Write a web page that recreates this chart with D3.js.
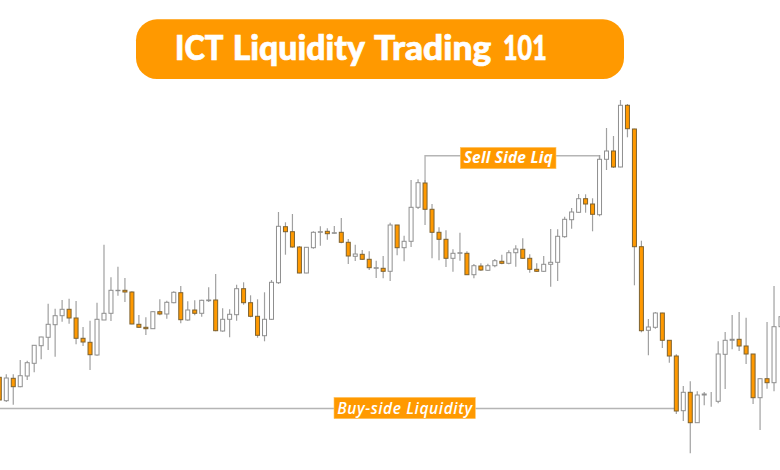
<!DOCTYPE html>
<html>
<head>
<meta charset="utf-8">
<script src="https://cdn.jsdelivr.net/npm/d3@7"></script>
<style>
  html, body { margin: 0; padding: 0; background: #fff; }
  svg { display: block; }
</style>
</head>
<body>
<svg id="chart" width="780" height="470"></svg>
<script>
var opens = [377.3,400.7,378.3,386.7,376,363.3,345.7,337.3,324.7,315.7,
  309.3,318,338.3,342.3,355,320,313.3,290.7,290.3,292,
  324.3,327.3,328.7,311.7,314,302.7,292.7,320,310,313.3,
  300.7,300,331,319.3,314.7,288.7,302.7,316.3,335.7,319.3,
  282.7,226.7,231.7,247,273,247.7,232.3,231.3,233.3,232.3,
  242.3,256.3,254.3,259.3,268.3,268.3,271.3,225,247.7,241.3,
  207.3,183,209.3,232.3,239.3,258.3,253.3,253.3,274.7,266,
  270.3,265.7,261.3,263.3,252.7,249.3,258.3,269.3,271.3,264.3,
  262.3,236.7,219.7,212.3,198.7,204,214.7,159.3,151,167,
  105.3,129,246.7,330.3,327.3,313,340.3,356,410.7,392.3,
  422.7,395,394,401.3,354.3,340.3,339.3,346,354,397.7,
  378.7,382.7,326.7];
var closes = [400,378,386.7,375.7,362.7,345.3,337,324.3,315.7,309.3,
  318,338.3,342,354.7,319.3,313.3,290.3,290.3,292,324,
  327.3,328.7,311.7,314,302.3,292.3,319.7,310,313.3,300.3,
  300,330.7,319.3,314.3,288.7,302.7,316.3,335.3,319.3,282.3,
  226.3,231.7,247,273,247.3,232.3,231.7,233.7,232.7,242.3,
  256,254,259.3,267.7,267.7,271.3,225,247.7,241.3,207.3,
  182.7,209.3,232.3,239.3,258.3,253.3,252.7,274.7,265.7,270,
  265.7,260.7,263.3,252.7,249,258.3,269.3,271.3,264.3,262.3,
  236.3,219.3,212,198.7,204,214.3,159.3,151,167,105.3,
  128.7,246.7,330.7,327,313,340.3,356,411,392.3,422.7,
  395,394,394,354,340.3,339.3,346,354,397.7,378.7,
  382.7,326.7,316.7];
var highs = [377,374.3,374.3,360,360.7,345,336.7,303.7,308.7,300,
  298.7,301,327,320.7,302.7,244.7,277.3,266.7,278,291.3,
  315,317.3,311.3,299.3,300.7,291.3,286,301.3,300.3,299.7,
  287.3,274,308.3,309.3,284.7,282.3,295.3,299.3,292.3,280,
  212,222.3,214,246,247,231.3,226.3,228.3,226,218,
  239,244.7,250,251.3,260.7,256,222.7,225,235.7,180,
  179.3,180,204,227.3,230.3,249.3,232.7,251.3,264,263.3,
  263.7,259,254.7,250.3,245.3,238.3,254.3,263.3,256,229,
  229.3,216.7,208,194,194.3,198.3,155,128,136,100,
  104,128.7,240.7,319,312,312.7,340,354.3,386,381.3,
  391.3,392,392,341.3,332,315,312,317.7,354,378.3,
  322,286,286];
var lows = [400,402,404.7,387.3,380,372.3,359.3,350,356.7,321.7,
  323.7,344.3,346,370,355.7,320,321,295.7,302,324.3,
  328,335,329,315.3,318.7,303.3,323.3,320.7,315.3,316.7,
  302,331.3,331.7,337.3,320.7,304.7,317.3,337.7,341.3,320,
  284,254.7,247.7,273.3,273.3,248.7,245.7,239.7,233.7,243.3,
  264,261,260,270,278,278.3,281,255.3,261.3,247,
  209,225,258.3,260.3,267,271.7,260.7,275,278.3,271,
  271,267.3,264.3,264.3,266.7,258.7,272.7,272,272,286.7,
  281,237.7,228.7,212.7,212.7,231.3,216.3,170,168,167.3,
  137.3,285.3,332.3,355.3,328.7,348,362.7,414,421,453.3,
  423,405.3,406.7,403.3,389,349.3,351,364,404,430,
  388.7,391.3,330];
var titleWords = ["ICT", "Liquidity", "Trading", "101"];
var levelLabels = ["Buy-side Liquidity", "Sell Side Liq"];
var buyLevel = [408.5];
var sellLevel = [155.7];
var candles = d3.range(opens.length);

var svg = d3.select("#chart");
var w = 780, h = 470;
var orange = "#ff9900";

// first candle hangs off the left edge, same as the screenshot
var x = d3.scaleLinear().domain([0, 112]).range([-0.7, 781]);
var y = d3.scaleLinear().domain([0, h]).range([0, h]);

// title pill
svg.append("rect").attr("x", 136).attr("y", 19.3).attr("width", 488).attr("height", 59.7)
  .attr("rx", 21).attr("fill", orange);
// each word placed on its own so the gaps line up
var wordBoxes = [[175, 48], [232.7, 132.3], [374, 118.7], [503, 43.7]];
var title = svg.append("text")
  .attr("y", 60)
  .attr("font-family", "Lato").attr("font-weight", 900).attr("font-size", 34)
  .attr("fill", "#fff").attr("stroke", "#fff").attr("stroke-width", 0.7);
titleWords.forEach(function(word, k) {
  title.append("tspan").text(k < titleWords.length - 1 ? word + " " : word)
    .attr("x", wordBoxes[k][0])
    .attr("textLength", wordBoxes[k][1] + (k < titleWords.length - 1 ? 7 : 0))
    .attr("lengthAdjust", "spacingAndGlyphs");
});

// liquidity levels, sit under the candles
var lineColor = "#b5b5b5";
svg.append("line")
  .attr("x1", 0).attr("x2", x(97))
  .attr("y1", y(buyLevel[0])).attr("y2", y(buyLevel[0]))
  .attr("stroke", lineColor).attr("stroke-width", 1.4);
svg.append("path")
  .attr("d", d3.line()([[x(61), y(opens[61])], [x(61), y(sellLevel[0])], [x(86), y(sellLevel[0])], [x(86), y(closes[86])]]))
  .attr("fill", "none").attr("stroke", lineColor).attr("stroke-width", 1.4);

svg.selectAll("line.wick").data(candles).enter().append("line")
  .attr("class", "wick")
  .attr("x1", function(i) { return x(i); })
  .attr("x2", function(i) { return x(i); })
  .attr("y1", function(i) { return y(highs[i]); })
  .attr("y2", function(i) { return y(lows[i]); })
  .attr("stroke", "#a0a0a0").attr("stroke-width", 1.2);

svg.selectAll("rect.body").data(candles).enter().append("rect")
  .attr("class", "body")
  .attr("x", function(i) { return x(i) - 2; })
  .attr("width", 4)
  .attr("y", function(i) { return y(Math.min(opens[i], closes[i])); })
  .attr("height", function(i) { return Math.abs(y(closes[i]) - y(opens[i])); })
  .attr("fill", function(i) { return closes[i] > opens[i] ? orange : "#fff"; })
  .attr("stroke", function(i) { return closes[i] > opens[i] ? "#7d6230" : "#8f8f8f"; })
  .attr("stroke-width", 1);

// level labels
var labelBoxes = [[334, 397.4, 141.3, 21.3], [460.3, 147.4, 95.7, 21.3]];
var labelBaselines = [413.5, 162.8];
var labelWidths = [135, 89];
labelBoxes.forEach(function(b, k) {
  svg.append("rect").attr("x", b[0]).attr("y", b[1]).attr("width", b[2]).attr("height", b[3])
    .attr("fill", orange).attr("stroke", "#ffc566").attr("stroke-width", 0.6);
  svg.append("text").text(levelLabels[k])
    .attr("x", b[0] + (b[2] - labelWidths[k]) / 2).attr("y", labelBaselines[k])
    .attr("textLength", labelWidths[k])
    .attr("font-family", "Open Sans").attr("font-style", "italic")
    .attr("font-weight", k == 0 ? 600 : 700).attr("font-size", 15.5)
    .attr("fill", "#fff");
});
</script>
</body>
</html>
